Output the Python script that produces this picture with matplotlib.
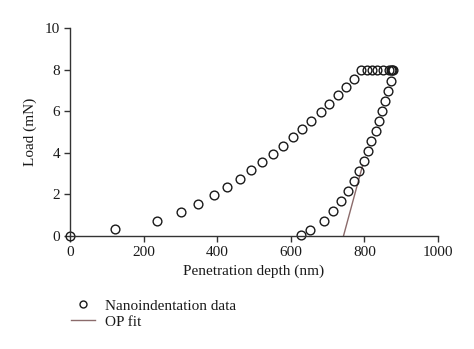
import numpy as np
import matplotlib.pyplot as plt
from matplotlib.lines import Line2D

plt.rcParams['font.family'] = ['Liberation Serif', 'DejaVu Serif']

# loading branch (nm, mN)
load_depth = [0, 122, 236, 301, 349, 390, 426, 461, 493, 522, 551, 578, 605,
              631, 656, 682, 705, 728, 751, 772, 791]
load_force = [0, 0.32, 0.74, 1.16, 1.56, 1.96, 2.36, 2.76, 3.16, 3.55, 3.95,
              4.35, 4.75, 5.15, 5.55, 5.95, 6.36, 6.76, 7.16, 7.56, 7.96]
# hold at peak load
hold_depth = [807, 821, 834, 850, 866, 872, 876, 878]
hold_force = [8.0, 8.0, 8.0, 8.0, 8.0, 8.0, 7.98, 7.98]
# unloading branch
unload_depth = [872, 863, 855, 848, 839, 830, 819, 809, 798, 784, 771, 755,
                737, 714, 689, 653, 627]
unload_force = [7.46, 6.98, 6.50, 6.02, 5.54, 5.06, 4.57, 4.09, 3.61, 3.13,
                2.65, 2.17, 1.69, 1.22, 0.74, 0.29, 0.03]
# Oliver-Pharr fit segment
fit_depth = [743, 795]
fit_force = [0.0, 3.4]

depth = np.array(load_depth + hold_depth + unload_depth)
force = np.array(load_force + hold_force + unload_force)

fig = plt.figure(figsize=(4.74, 3.49), dpi=100)
ax = fig.add_axes([0.1477, 0.3238, 0.7765, 0.596])

ax.plot(fit_depth, fit_force, color='#8b6b6b', lw=1.0, zorder=1)
ax.plot(depth, force, ls='none', marker='o', ms=6.3, mfc='none',
        mec='#1a1a1a', mew=1.0, clip_on=False, zorder=2)

ax.set_xlim(0, 1000)
ax.set_ylim(0, 10)
ax.set_xticks([0, 200, 400, 600, 800, 1000])
ax.set_yticks([0, 2, 4, 6, 8, 10])
for s in ['top', 'right']:
    ax.spines[s].set_visible(False)
for s in ['left', 'bottom']:
    ax.spines[s].set_color('#333333')
    ax.spines[s].set_linewidth(1.0)
ax.tick_params(direction='out', length=4, width=1.0, color='#333333',
               labelsize=11, labelcolor='#1a1a1a', pad=3)
ax.set_xlabel('Penetration depth (nm)', fontsize=11, color='#1a1a1a', labelpad=4)
ax.set_ylabel('Load (mN)', fontsize=11, color='#1a1a1a', labelpad=6)

handles = [
    Line2D([], [], ls='none', marker='o', ms=5, mfc='none', mec='#1a1a1a', mew=1.0),
    Line2D([], [], color='#8b6b6b', lw=1.0),
]
fig.legend(handles, ['Nanoindentation data', 'OP fit'], loc='upper left',
           bbox_to_anchor=(0.134, 0.165), frameon=False, fontsize=11,
           handlelength=1.57, handletextpad=0.65, labelspacing=0.15,
           borderpad=0, labelcolor='#1a1a1a')

fig.savefig('out.png', dpi=100)
